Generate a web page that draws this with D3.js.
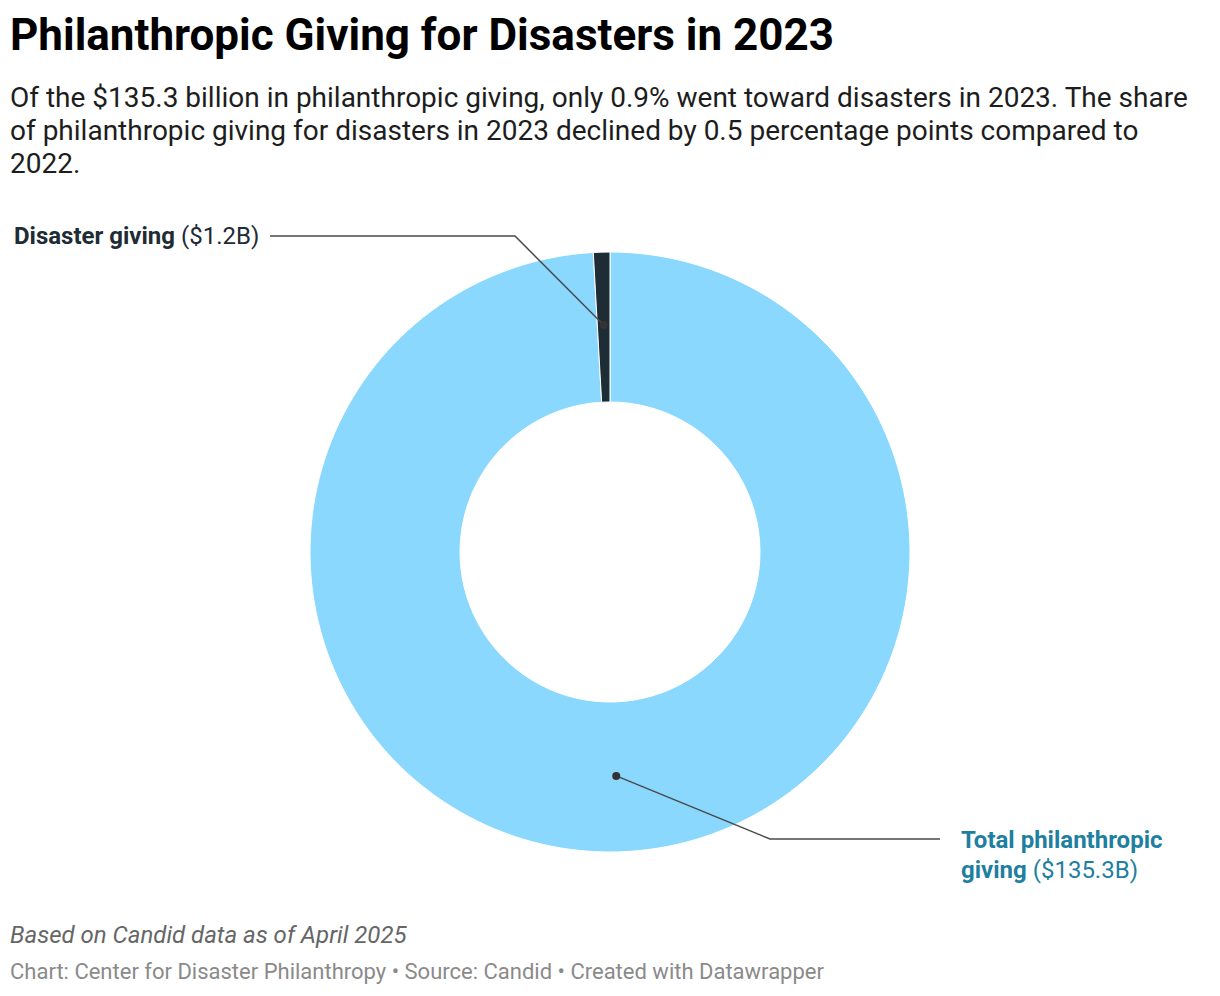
<!DOCTYPE html>
<html>
<head>
<meta charset="utf-8">
<script src="https://cdn.jsdelivr.net/npm/d3@7"></script>
<style>
  body { margin: 0; background: #fff; font-family: Roboto, "Noto Sans", sans-serif; }
  svg text { font-family: Roboto, "Noto Sans", sans-serif; }
</style>
</head>
<body>
<div id="container"></div>
<script>
// chart data
const slice_names = ["Total philanthropic giving", "Disaster giving"]
const slice_values = [134.1, 1.2]
const slice_labels = [["Total philanthropic", "giving"], ["Disaster giving"]]
const slice_amounts = ["($135.3B)", "($1.2B)"]
const slice_colors = ["#8ad8fd", "#1e2c35"]
const label_colors = ["#1f7fa0", "#1e2c35"]

const title = "Philanthropic Giving for Disasters in 2023"
const subtitle_lines = [
    "Of the $135.3 billion in philanthropic giving, only 0.9% went toward disasters in 2023. The share",
    "of philanthropic giving for disasters in 2023 declined by 0.5 percentage points compared to",
    "2022."
]
const note = "Based on Candid data as of April 2025"
const credits = "Chart: Center for Disaster Philanthropy • Source: Candid • Created with Datawrapper"

const width = 1220, height = 996
const cx = 610, cy = 552
const outerR = 300, innerR = 150

let svg = d3.select("#container").append("svg")
    .attr("width", width)
    .attr("height", height)

svg.append("text")
    .attr("x", 10).attr("y", 50)
    .attr("font-size", 44).attr("font-weight", 700)
    .attr("fill", "#000")
    .text(title)

svg.append("g").selectAll("text")
    .data(subtitle_lines)
    .enter().append("text")
    .attr("x", 10)
    .attr("y", (d, i) => 107 + i * 33)
    .attr("font-size", 28)
    .attr("fill", "#1d1d1d")
    .text(d => d)

let data = slice_names.map((n, i) => ({ name: n, value: slice_values[i], i: i }))

// total starts at 12 o'clock clockwise, disaster slice ends at 12 o'clock
let pie = d3.pie()
    .value(d => d.value)
    .sort(null)

let arcs = pie(data)

let arc = d3.arc().innerRadius(innerR).outerRadius(outerR)

let chart = svg.append("g").attr("transform", `translate(${cx},${cy})`)

chart.selectAll("path")
    .data(arcs)
    .enter().append("path")
    .attr("d", arc)
    .attr("fill", d => slice_colors[d.data.i])
    .attr("stroke", "#fff")
    .attr("stroke-width", 1)

// leader lines + labels
function polar(r, a) { return [cx + r * Math.sin(a), cy - r * Math.cos(a)] }

let ann = svg.append("g")

// disaster slice
let dis = arcs[1]
let disAngle = (dis.startAngle + dis.endAngle) / 2
let p0 = polar(227, disAngle)
ann.append("path")
    .attr("d", d3.line()([p0, [515, 236], [270, 236]]))
    .attr("fill", "none").attr("stroke", "#4a4a4a").attr("stroke-width", 1.5)
ann.append("circle").attr("cx", p0[0]).attr("cy", p0[1]).attr("r", 4).attr("fill", "#333")

let t1 = ann.append("text")
    .attr("x", 14).attr("y", 244)
    .attr("font-size", 24).attr("fill", label_colors[1])
t1.append("tspan").attr("font-weight", 700).text(slice_labels[1][0] + " ")
t1.append("tspan").text(slice_amounts[1])

// total slice
let tot = arcs[0]
let totAngle = (tot.startAngle + tot.endAngle) / 2
let p1 = polar(224, totAngle)
ann.append("path")
    .attr("d", d3.line()([p1, [770, 839], [940, 839]]))
    .attr("fill", "none").attr("stroke", "#4a4a4a").attr("stroke-width", 1.5)
ann.append("circle").attr("cx", p1[0]).attr("cy", p1[1]).attr("r", 4).attr("fill", "#333")

let t2 = ann.append("text")
    .attr("x", 961).attr("y", 848)
    .attr("font-size", 24).attr("fill", label_colors[0])
t2.append("tspan").attr("font-weight", 700).text(slice_labels[0][0])
let t3 = ann.append("text")
    .attr("x", 961).attr("y", 878)
    .attr("font-size", 24).attr("fill", label_colors[0])
t3.append("tspan").attr("font-weight", 700).text(slice_labels[0][1] + " ")
t3.append("tspan").text(slice_amounts[0])

svg.append("text")
    .attr("x", 10).attr("y", 943)
    .attr("font-size", 24).attr("font-style", "italic")
    .attr("fill", "#666")
    .text(note)

svg.append("text")
    .attr("x", 10).attr("y", 979)
    .attr("font-size", 22)
    .attr("fill", "#8a8a8a")
    .text(credits)
</script>
</body>
</html>
